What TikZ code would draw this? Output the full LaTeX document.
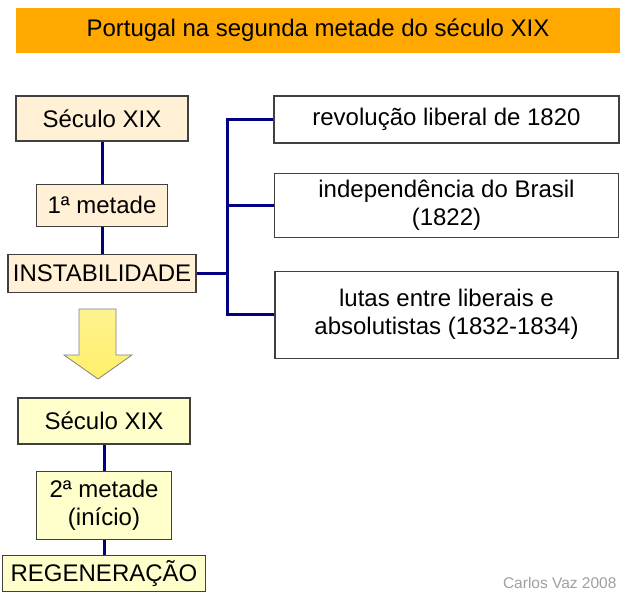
\documentclass[tikz,border=0pt]{standalone}
\usepackage{fontspec}
\setmainfont{Liberation Sans}
\usetikzlibrary{positioning}
\definecolor{titleorange}{HTML}{FFA800}
\definecolor{beige}{HTML}{FFF0D6}
\definecolor{paleyellow}{HTML}{FFFFCC}
\definecolor{arrowyellow}{HTML}{FFEF6A}
\definecolor{linknavy}{HTML}{000080}
\definecolor{boxgray}{HTML}{404040}
\tikzset{
  box/.style={draw=boxgray, line width=1.1pt, inner sep=0pt, align=center,
    font=\fontsize{24}{28}\selectfont},
  topbox/.style={box, fill=beige},
  lowbox/.style={box, fill=paleyellow},
  link/.style={draw=linknavy, line width=3pt},
}
\begin{document}
\begin{tikzpicture}[x=1pt, y=-1pt]
  \useasboundingbox (0,0) rectangle (626,595);
  \node (title) [fill=titleorange, minimum width=604pt, minimum height=45pt,
    font=\fontsize{24}{28}\selectfont] at (318,30.5)
    {Portugal na segunda metade do século XIX};

  \node (sec1) [topbox, minimum width=172pt, minimum height=45pt] at (102,118.5) {Século XIX};
  \node (met1) [topbox, minimum width=131pt, minimum height=42pt, below=42pt of sec1] {1ª metade};
  \node (inst) [topbox, minimum width=188pt, minimum height=38pt, below=27pt of met1] {INSTABILIDADE};

  \node (rev) [box, minimum width=345pt, minimum height=47pt] at (446.5,119.5) {revolução liberal de 1820};
  \node (ind) [box, minimum width=344pt, minimum height=64pt, below=29pt of rev] {independência do Brasil\\(1822)};
  \node (lut) [box, minimum width=343pt, minimum height=87pt, below=33pt of ind] {lutas entre liberais e\\absolutistas (1832-1834)};

  \node (sec2) [lowbox, minimum width=172pt, minimum height=46pt] at (104,421) {Século XIX};
  \node (met2) [lowbox, minimum width=135pt, minimum height=68pt, below=26pt of sec2] {2ª metade\\(início)};
  \node (reg) [lowbox, minimum width=203pt, minimum height=36pt, below=15pt of met2] {REGENERAÇÃO};

  \node (credit) [anchor=east, text=gray!75, font=\fontsize{15.5}{18}\selectfont] at (620,583) {Carlos Vaz 2008};

  % connectors
  \coordinate (bus) at (227,271);
  \draw[link] (sec1) -- (met1);
  \draw[link] (met1) -- (inst);
  \draw[link] (inst.east) -- (inst.east -| bus);
  \draw[link] (rev.west) -| (bus) |- (lut.west);
  \draw[link] (ind.west) -- (ind.west -| bus);
  \draw[link] (sec2) -- (met2);
  \draw[link] (met2) -- (reg);

  % big arrow
  \draw[draw=gray, line width=0.8pt, top color=arrowyellow!75!white, bottom color=arrowyellow]
    (79,309) -- (116,309) -- (116,355) -- (132,355) -- (98,379)
    -- (64,355) -- (79,355) -- cycle;
\end{tikzpicture}
\end{document}
